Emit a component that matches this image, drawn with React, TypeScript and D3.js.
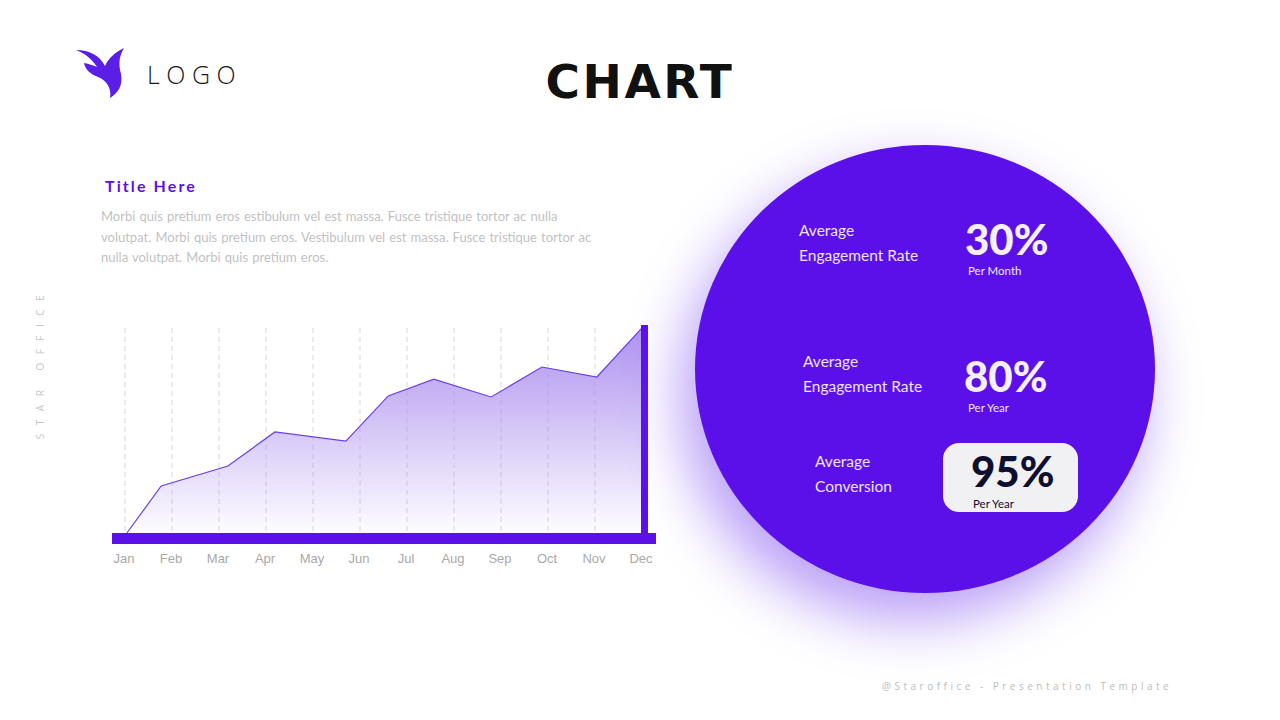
import React from 'react';
import * as d3 from 'd3';

// chart data
const months = ['Jan', 'Feb', 'Mar', 'Apr', 'May', 'Jun', 'Jul', 'Aug', 'Sep', 'Oct', 'Nov', 'Dec'];
// position of each point along the month axis (0 = Jan, 11 = Dec)
const pointPos = [0.04, 0.77, 2.19, 3.19, 4.7, 5.6, 6.57, 7.79, 8.87, 10.04, 11];
const pointVal = [0, 22.6, 32.2, 48.6, 44.2, 65.9, 74, 65.4, 79.8, 75, 98.6];

const statLabels = [['Average', 'Engagement Rate'], ['Average', 'Engagement Rate'], ['Average', 'Conversion']];
const statValues = ['30%', '80%', '95%'];
const statPeriods = ['Per Month', 'Per Year', 'Per Year'];

const bodyLines = [
  'Morbi quis pretium eros estibulum vel est massa. Fusce tristique tortor ac nulla',
  'volutpat. Morbi  quis pretium eros.  Vestibulum vel est massa. Fusce tristique  tortor ac',
  'nulla volutpat. Morbi quis pretium eros.',
];

const PURPLE = '#5b10ea';

const App: React.FC = () => {
  const x = d3.scaleLinear().domain([0, 11]).range([125, 642]);
  const y = d3.scaleLinear().domain([0, 100]).range([533, 325]);

  const pts = pointPos.map((p, i) => ({ p, v: pointVal[i] }));
  const line = d3.line<{ p: number; v: number }>().x(d => x(d.p)).y(d => y(d.v));
  const area = d3.area<{ p: number; v: number }>().x(d => x(d.p)).y0(y(0)).y1(d => y(d.v));

  const lato = 'Lato, "Open Sans", sans-serif';

  // layout of the three stat rows inside the circle
  const rows = [
    { lx: 799, ly: 236, nx: 965, ny: 255, px: 968, py: 275 },
    { lx: 803, ly: 367, nx: 964, ny: 392, px: 968, py: 412 },
    { lx: 815, ly: 467, nx: 971, ny: 487, px: 973, py: 508 },
  ];

  return (
    <svg width={1280} height={720} style={{ position: 'absolute', left: 0, top: 0, background: '#fff' }}>
      <defs>
        <linearGradient id="areaFill" x1="0" y1={y(100)} x2="0" y2={y(0)} gradientUnits="userSpaceOnUse">
          <stop offset="0" stopColor="#a98bef" stopOpacity={0.95} />
          <stop offset="1" stopColor="#a98bef" stopOpacity={0.02} />
        </linearGradient>
        <filter id="glow" x="-50%" y="-50%" width="200%" height="200%">
          <feGaussianBlur stdDeviation="28" />
        </filter>
      </defs>

      {/* logo */}
      <path
        d="M76,50 C90,50 100,56 105,66 C109,57 116,52 124,48 C118,58 119,66 121,74 C123,86 118,93 110,98 C112,88 106,80 98,77 C90,74 85,69 84,63 C89,64 93,65 97,67 C91,58 84,53 76,50 Z"
        fill="#5b1ee6"
      />
      <text x={147} y={84} fontFamily='"Open Sans", sans-serif' fontWeight={300} fontSize={25} letterSpacing={6.5} fill="#1a1a1a">
        LOGO
      </text>

      {/* header */}
      <text x={640} y={98} textAnchor="middle" fontFamily='"DejaVu Sans", sans-serif' fontWeight={700} fontSize={47} letterSpacing={2.5} fill="#111">
        CHART
      </text>

      {/* side caption */}
      <text
        transform="translate(44,363) rotate(-90)"
        textAnchor="middle"
        fontFamily='"Open Sans", sans-serif'
        fontSize={10}
        letterSpacing={8.5}
        fill="#c4c4c4"
      >
        STAR OFFICE
      </text>

      {/* text block */}
      <text x={105} y={192} fontFamily={lato} fontWeight={700} fontSize={16} letterSpacing={2.1} fill={PURPLE}>
        Title Here
      </text>
      {bodyLines.map((t, i) => (
        <text key={i} x={101} y={221 + i * 20.5} fontFamily={lato} fontSize={13} wordSpacing={0.8} fill="#c2c2c2">
          {t}
        </text>
      ))}

      {/* grid */}
      {months.map((m, i) => (
        <line key={m} x1={x(i)} x2={x(i)} y1={y(98.6)} y2={y(0)} stroke="#d6d6d6" strokeDasharray="5,4" strokeWidth={1} />
      ))}

      {/* area + line */}
      <path d={area(pts) || ''} fill="url(#areaFill)" />
      <path d={line(pts) || ''} fill="none" stroke="#6b3fe4" strokeWidth={1.2} />

      {/* axis bars */}
      <rect x={x(0) - 13} y={y(0)} width={x(11) - x(0) + 27} height={11} fill={PURPLE} />
      <rect x={x(11) - 1} y={y(100)} width={7} height={y(0) - y(100)} fill={PURPLE} />

      {months.map((m, i) => (
        <text key={m} x={x(i) - 1} y={563} textAnchor="middle" fontFamily='"Liberation Sans", Arial, sans-serif' fontSize={13} fill="#a9a9a9">
          {m}
        </text>
      ))}

      {/* circle */}
      <ellipse cx={912} cy={395} rx={232} ry={226} fill="#8e62f2" opacity={0.6} filter="url(#glow)" />
      <ellipse cx={925} cy={369} rx={230} ry={224} fill={PURPLE} />

      <rect x={943} y={443} width={135} height={69} rx={16} fill="#f1f1f3" />

      {rows.map((r, i) => {
        const dark = i === 2;
        return (
          <g key={i}>
            <text x={r.lx} y={r.ly} fontFamily={lato} fontSize={15.5} fill="#ede4ff">
              {statLabels[i][0]}
            </text>
            <text x={r.lx} y={r.ly + 25} fontFamily={lato} fontSize={15.5} fill="#ede4ff">
              {statLabels[i][1]}
            </text>
            <text x={r.nx} y={r.ny} fontFamily={lato} fontWeight={900} fontSize={42} fill={dark ? '#0e0f30' : '#f3effb'}>
              {statValues[i]}
            </text>
            <text x={r.px} y={r.py} fontFamily={lato} fontSize={11.5} fill={dark ? '#0e0f30' : '#efe8ff'}>
              {statPeriods[i]}
            </text>
          </g>
        );
      })}

      {/* footer */}
      <text x={882} y={690} fontFamily='"Open Sans", sans-serif' fontSize={10} letterSpacing={3.5} fill="#bdbdbd">
        @Staroffice - Presentation Template
      </text>
    </svg>
  );
};

export default App;
